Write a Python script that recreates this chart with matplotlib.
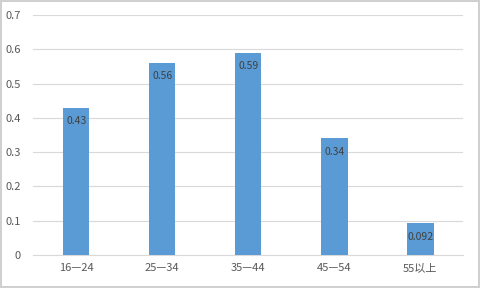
import matplotlib
matplotlib.use('Agg')
import matplotlib.pyplot as plt

plt.rcParams['font.family'] = ['Noto Sans CJK SC', 'DejaVu Sans']

categories = ['16—24', '25—34', '35—44', '45—54', '55以上']
values = [0.43, 0.56, 0.59, 0.34, 0.092]
labels = ['0.43', '0.56', '0.59', '0.34', '0.092']
yticks = [0, 0.1, 0.2, 0.3, 0.4, 0.5, 0.6, 0.7]

bar_color = '#5B9BD5'
text_color = '#595959'

fig = plt.figure(figsize=(4.8, 2.88), dpi=100)
fig.patch.set_facecolor('white')
fig.patch.set_edgecolor('#D0D0D0')
fig.patch.set_linewidth(1.5)
ax = fig.add_axes([0.069, 0.115, 0.896, 0.833])

x = range(len(categories))
ax.bar(x, values, width=0.31, color=bar_color, zorder=3)
for xi, v, lab in zip(x, values, labels):
    ax.annotate(lab, (xi, v), xytext=(0, -6), textcoords='offset points',
                ha='center', va='top', fontsize=7.5, color='#404040', zorder=4)

ax.set_xlim(-0.5, len(categories) - 0.5)
ax.set_ylim(0, 0.7)
ax.set_yticks(yticks)
ax.set_yticklabels(['0' if t == 0 else f'{t:.1f}' for t in yticks])
ax.set_xticks(list(x))
ax.set_xticklabels(categories)
ax.yaxis.grid(True, color='#D9D9D9', linewidth=0.8, zorder=0)
for s in ['top', 'right', 'left']:
    ax.spines[s].set_visible(False)
ax.spines['bottom'].set_color('#D9D9D9')
ax.spines['bottom'].set_linewidth(0.8)
ax.tick_params(axis='both', length=0, labelsize=8, colors=text_color)
ax.tick_params(axis='y', pad=9)
ax.tick_params(axis='x', pad=6)

fig.savefig('out.png', dpi=100)
